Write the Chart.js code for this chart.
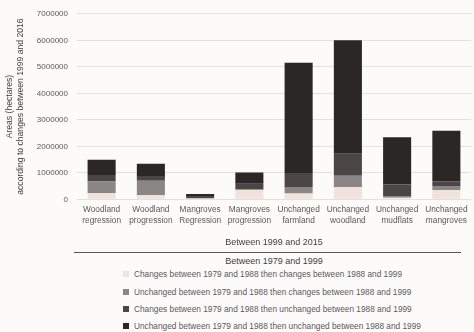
<!DOCTYPE html>
<html><head><meta charset="utf-8">
<script src="https://cdn.jsdelivr.net/npm/chart.js@4.4.1/dist/chart.umd.min.js"></script>
<style>
html,body{margin:0;padding:0;background:#fdfbf9;}
body{width:474px;height:332px;position:relative;overflow:hidden;font-family:"Liberation Sans",Arial,sans-serif;}
#wrap{position:absolute;left:0;top:0;width:474px;height:250px;}
#rule{position:absolute;left:74px;top:252px;width:387px;height:0;border-top:1px solid #555;}
#ltitle{position:absolute;left:77px;width:394px;top:255px;height:12px;line-height:12px;text-align:center;font-size:9px;color:#404040;}
.li{position:absolute;left:123px;height:12px;line-height:12px;font-size:8.3px;color:#595959;white-space:nowrap;}
.li i{position:absolute;left:0;top:3px;width:6px;height:6px;}
.li span{position:absolute;left:11px;top:0;}
</style></head>
<body>
<div id="wrap"><canvas id="c" width="474" height="250"></canvas></div>
<div id="rule"></div>
<div id="ltitle">Between 1979 and 1999</div>
<div id="legend"></div>
<script>
const categories = [["Woodland","regression"],["Woodland","progression"],["Mangroves","Regression"],["Mangroves","progression"],["Unchanged","farmland"],["Unchanged","woodland"],["Unchanged","mudflats"],["Unchanged","mangroves"]];
const seriesNames = [
  "Changes between 1979 and 1988 then changes between 1988 and 1999",
  "Unchanged between 1979 and 1988 then changes between 1988 and 1999",
  "Changes between 1979 and 1988 then unchanged between 1988 and 1999",
  "Unchanged between 1979 and 1988 then unchanged between 1988 and 1999"
];
const changesChanges     = [240000, 150000, 30000, 340000, 220000, 460000, 60000, 340000];
const unchangedChanges   = [430000, 550000, 20000, 40000, 240000, 430000, 60000, 160000];
const changesUnchanged   = [250000, 180000, 70000, 210000, 530000, 830000, 440000, 180000];
const unchangedUnchanged = [570000, 460000, 80000, 420000, 4160000, 4280000, 1780000, 1910000];
const yTicks = [0, 1000000, 2000000, 3000000, 4000000, 5000000, 6000000, 7000000];
const xTitle = "Between 1999 and 2015";
const yTitle = ["Areas (hectares)", "according to changes between 1999 and 2016"];

const colors = ["#f2e2dc", "#8a8685", "#4b4645", "#2b2727"];
const values = [changesChanges, unchangedChanges, changesUnchanged, unchangedUnchanged];
const FAM = "'Liberation Sans', Arial, sans-serif";

const chart = new Chart(document.getElementById('c'), {
  type: 'bar',
  data: {
    labels: categories,
    datasets: values.map((v, i) => ({
      label: seriesNames[i], data: v, backgroundColor: colors[i],
      borderWidth: 0, barPercentage: 0.57, categoryPercentage: 1.0
    }))
  },
  options: {
    responsive: false, animation: false,
    layout: { padding: { left: 3, right: 3, top: 7.5, bottom: 0 } },
    plugins: { legend: { display: false }, tooltip: { enabled: false } },
    scales: {
      x: {
        stacked: true,
        grid: { display: false, drawTicks: false },
        border: { display: false },
        ticks: { font: { size: 8.3, family: FAM, lineHeight: 1.35 }, color: '#595959', maxRotation: 0, autoSkip: false, padding: 5 },
        title: { display: true, text: xTitle, font: { size: 9, family: FAM }, color: '#404040', padding: { top: 4, bottom: 1.6 } },
        afterFit: s => { s.height = 50.7; }
      },
      y: {
        stacked: true, min: 0, max: 7000000,
        afterBuildTicks: s => { s.ticks = yTicks.map(v => ({ value: v })); },
        ticks: { font: { size: 8, family: FAM }, color: '#595959', padding: 9, callback: v => String(v) },
        grid: { color: '#e4e0dd', drawTicks: false },
        border: { display: false },
        title: { display: true, text: yTitle, font: { size: 8.6, family: FAM, lineHeight: 1.25 }, color: '#404040', padding: { top: 1 } },
        afterFit: s => { s.width = 74; }
      }
    }
  }
});

const legendTops = [268.3, 286, 303.3, 320];
const lg = document.getElementById('legend');
chart.data.datasets.forEach((ds, i) => {
  const d = document.createElement('div');
  d.className = 'li';
  d.style.top = legendTops[i] + 'px';
  d.innerHTML = '<i style="background:' + ds.backgroundColor + '"></i><span></span>';
  d.querySelector('span').textContent = ds.label;
  lg.appendChild(d);
});
</script>
</body></html>
